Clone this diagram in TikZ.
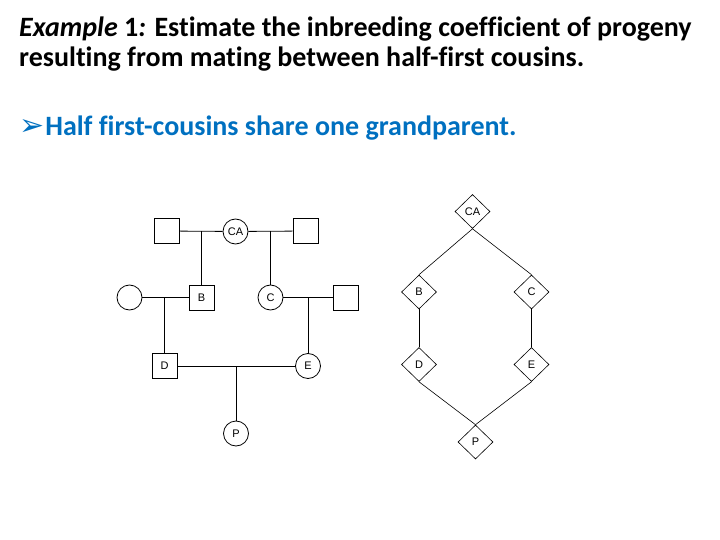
\documentclass[tikz,border=0pt]{standalone}
\usepackage{fontspec}
\setmainfont[Ligatures=NoCommon]{Carlito}
\newfontfamily\lblfont{Liberation Sans}
\newfontfamily\dingfont{DejaVu Sans}
\usepackage{xcolor}
\usetikzlibrary{positioning, shapes.geometric}
\definecolor{slideblue}{RGB}{0,112,192}

\tikzset{
  sq/.style={draw, line width=0.8pt, minimum size=25pt, inner sep=0pt, font=\lblfont\fontsize{11}{13}\selectfont},
  circ/.style={draw, circle, line width=0.8pt, minimum size=25pt, inner sep=0pt, font=\lblfont\fontsize{11}{13}\selectfont},
  dia/.style={draw, diamond, line width=0.6pt, minimum width=35pt, minimum height=34pt, inner sep=0pt, font=\lblfont\fontsize{11}{13}\selectfont},
  ped/.style={line width=0.8pt},
  pth/.style={line width=0.6pt}
}

\begin{document}
\begin{tikzpicture}[x=1pt, y=-1pt]
\useasboundingbox (0,0) rectangle (720,540);

\node[anchor=base west, inner sep=0pt, font=\fontsize{28}{32}\selectfont\bfseries] (title1) at (19,36.5) {\textit{Example} 1\textit{:} Estimate the inbreeding coefficient of progeny};
\node[anchor=base west, inner sep=0pt, font=\fontsize{28}{32}\selectfont\bfseries] (title2) at (19,67) {resulting from mating between half-first cousins.};
\node[anchor=base west, inner sep=0pt, font=\fontsize{28}{32}\selectfont\bfseries, text=slideblue] (point) at (19,135.5) {{\dingfont\fontsize{30}{34}\selectfont ➢}\kern1pt Half first-cousins share one grandparent.};

% pedigree
\node[sq] (gpl) at (167,231) {};
\node[circ] (ca) at (235.5,231.5) {CA};
\node[sq] (gpr) at (305.5,231) {};
\node[circ] (wb) at (129.5,297.5) {};
\node[sq] (b) at (201.5,297.5) {B};
\node[circ] (c) at (270.5,297.5) {C};
\node[sq] (hc) at (345.5,297.5) {};
\node[sq] (d) at (164.5,366) {D};
\node[circ] (e) at (308,366) {E};
\node[circ] (p) at (236,433.5) {P};

\coordinate (m1) at (201.5,231.5);
\coordinate (m2) at (270.5,231.5);
\coordinate (m3) at (164.5,297.5);
\coordinate (m4) at (308,297.5);
\coordinate (m5) at (236,366);

\draw[ped] (gpl) -- (ca);
\draw[ped] (ca) -- (gpr);
\draw[ped] (m1) -- (b);
\draw[ped] (m2) -- (c);
\draw[ped] (wb) -- (b);
\draw[ped] (c) -- (hc);
\draw[ped] (m3) -- (d);
\draw[ped] (m4) -- (e);
\draw[ped] (d) -- (e);
\draw[ped] (m5) -- (p);

% path diagram
\node[dia] (pca) at (472.5,211.5) {CA};
\node[dia] (pb) at (419,292) {B};
\node[dia] (pc) at (531.5,292) {C};
\node[dia] (pd) at (419,364.5) {D};
\node[dia] (pe) at (531.5,364.5) {E};
\node[dia] (pp) at (475.5,442) {P};

\draw[pth] (pca.south) -- (pb.north);
\draw[pth] (pca.south) -- (pc.north);
\draw[pth] (pb) -- (pd);
\draw[pth] (pc) -- (pe);
\draw[pth] (pd.south) -- (pp.north);
\draw[pth] (pe.south) -- (pp.north);
\end{tikzpicture}
\end{document}
